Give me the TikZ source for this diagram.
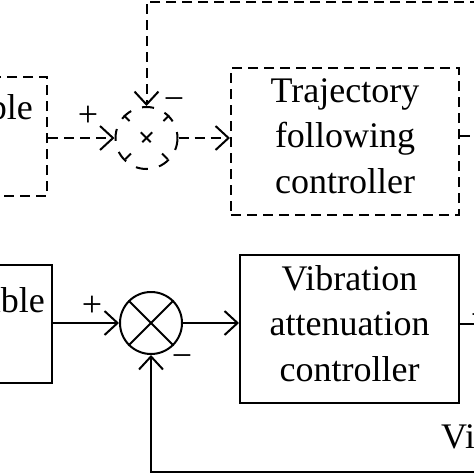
\documentclass[tikz,border=0pt]{standalone}
\usepackage{fontspec}
\setmainfont{Liberation Serif}
\usetikzlibrary{arrows.meta}
\begin{document}
\begin{tikzpicture}[x=1pt,y=-1pt,
  font=\fontsize{36}{45.5}\selectfont,
  ln/.style={line width=2pt},
  dsh/.style={ln, dash pattern=on 10pt off 6pt},
  tip/.style={-{Straight Barb[length=13pt,width=24pt,line width=2pt]}},
  box/.style={draw, inner sep=0pt, align=center},
  lab/.style={inner sep=0pt},
  sumj/.style={circle, draw, minimum size=62pt, inner sep=0pt},
  dcirc/.style={ln, dash pattern=on 12pt off 11.56pt, dash phase=6pt},
  dcross/.style={ln, dash pattern=on 8pt off 16pt on 14pt off 16pt}]
\useasboundingbox (0,0) rectangle (474,474);
\clip (0,0) rectangle (474,474);

% ---------- top (dashed) loop ----------
\node[box, dsh, minimum width=107pt, minimum height=119pt] (in1) at (-6.5,136.5) {};
\node[lab, anchor=base east] (t1) at (33,119) {ble};
\node[sumj, dcirc] (s1) at (146.5,138) {};
\draw[dcross] (s1.north west) -- (s1.south east);
\draw[dcross] (s1.north east) -- (s1.south west);
\node[box, dsh, minimum width=228pt, minimum height=147pt, text depth=11pt] (tr) at (345,141.5)
  {Trajectory\\following\\controller};
\coordinate (top1) at (146.5,1.5);
\coordinate (topR) at (480,1.5);
\coordinate (trR) at (480,136);
\draw[dsh, tip] (in1.east |- s1.west) -- (s1.west);
\draw[dsh, tip] (topR) -- (top1) -- (s1.north);
\draw[dsh, tip] (s1.east) -- (s1.east -| tr.west);
\draw[dsh] (tr.east |- trR) -- (trR);
\node[lab] (p1) at (88,116) {+};
\node[lab] (m1) at (174,104) {−};

% ---------- bottom (solid) loop ----------
\node[box, ln, minimum width=112pt, minimum height=118pt] (in2) at (-4,324) {};
\node[lab, anchor=base east] (t2) at (45,312) {able};
\node[sumj, ln] (s2) at (151,323) {};
\draw[ln] (s2.north west) -- (s2.south east);
\draw[ln] (s2.north east) -- (s2.south west);
\node[box, ln, minimum width=219pt, minimum height=148pt, text depth=11pt] (vb) at (349.5,329)
  {Vibration\\attenuation\\controller};
\coordinate (vbR) at (480,324);
\coordinate (fbR) at (480,472);
\draw[ln, tip] (in2.east |- s2.west) -- (s2.west);
\draw[ln, tip] (s2.east) -- (s2.east -| vb.west);
\draw[ln] (vb.east |- vbR) -- (vbR);
\draw[ln, tip] (fbR) -- (s2.south |- fbR) -- (s2.south);
\node[lab] (p2) at (92,306) {+};
\node[lab] (m2) at (182,361) {−};
\node[lab] (p3) at (481,316) {+};
\node[lab, anchor=base west] (vi) at (441,448) {Vib};
\end{tikzpicture}
\end{document}
